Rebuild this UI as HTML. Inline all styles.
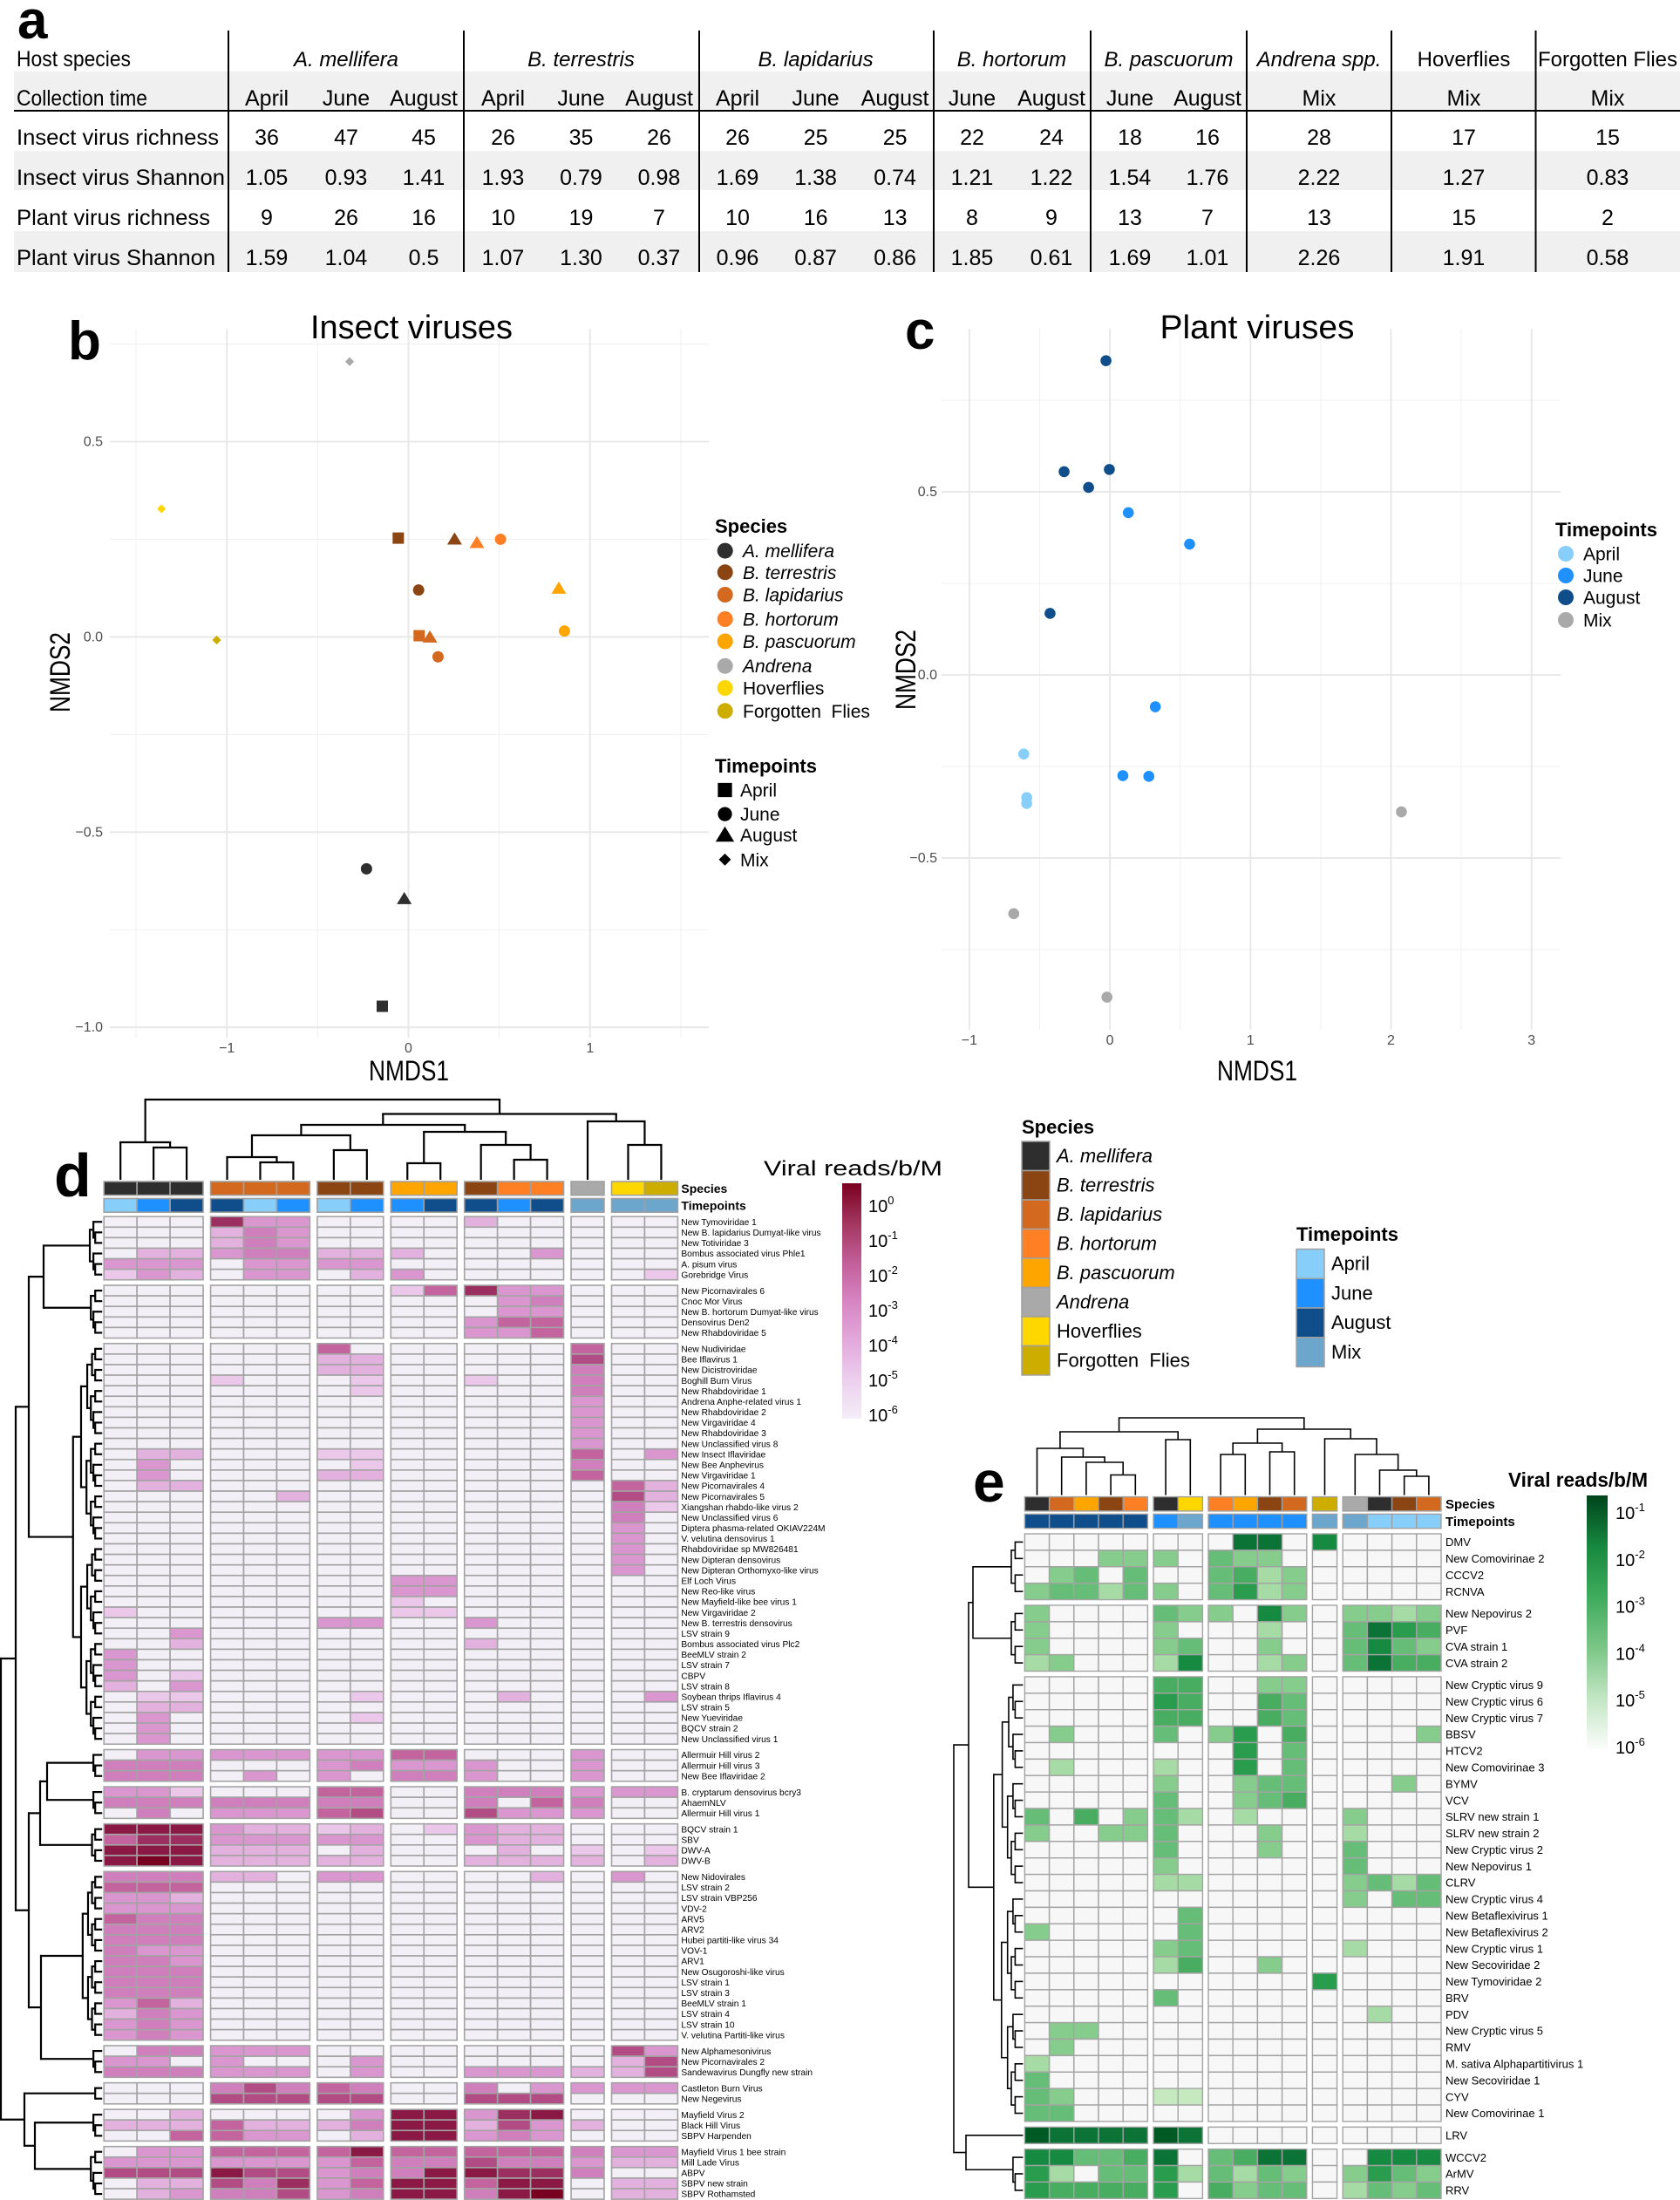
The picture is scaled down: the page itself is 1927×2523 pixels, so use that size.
<!DOCTYPE html>
<html><head><meta charset="utf-8">
<style>
html,body{margin:0;padding:0;background:#fff;}
svg{display:block;font-family:"Liberation Sans",Arial,sans-serif;}
</style></head>
<body>
<svg id="fig" xmlns="http://www.w3.org/2000/svg" width="1927" height="2523" viewBox="0 0 1927 2523">
<defs>
<linearGradient id="gradPink" x1="0" y1="0" x2="0" y2="1">
<stop offset="0" stop-color="#7a0020"/><stop offset="0.17" stop-color="#a3365f"/><stop offset="0.34" stop-color="#c25f9a"/><stop offset="0.5" stop-color="#d685c2"/><stop offset="0.67" stop-color="#e2a9dc"/><stop offset="0.84" stop-color="#ecd0ee"/><stop offset="1" stop-color="#f4eef8"/>
</linearGradient>
<linearGradient id="gradGreen" x1="0" y1="0" x2="0" y2="1">
<stop offset="0" stop-color="#00441b"/><stop offset="0.2" stop-color="#17883f"/><stop offset="0.4" stop-color="#3fab5c"/><stop offset="0.6" stop-color="#7bc687"/><stop offset="0.8" stop-color="#c2e5c3"/><stop offset="1" stop-color="#fbfdfb"/>
</linearGradient>
</defs>
</svg>
<script>
// ---------- TABLE DATA ----------
const tblSpecies = ["A. mellifera","B. terrestris","B. lapidarius","B. hortorum","B. pascuorum","Andrena spp.","Hoverflies","Forgotten Flies"];
const tblTimes = ["April","June","August","April","June","August","April","June","August","June","August","June","August","Mix","Mix","Mix"];
const insectRichness = ["36","47","45","26","35","26","26","25","25","22","24","18","16","28","17","15"];
const insectShannon = ["1.05","0.93","1.41","1.93","0.79","0.98","1.69","1.38","0.74","1.21","1.22","1.54","1.76","2.22","1.27","0.83"];
const plantRichness = ["9","26","16","10","19","7","10","16","13","8","9","13","7","13","15","2"];
const plantShannon = ["1.59","1.04","0.5","1.07","1.30","0.37","0.96","0.87","0.86","1.85","0.61","1.69","1.01","2.26","1.91","0.58"];

// ---------- SCATTER b DATA ----------
const bSpecies = ["Andrena","Hoverflies","Forgotten","terrestris","terrestris","hortorum","hortorum","terrestris","pascuorum","pascuorum","lapidarius","lapidarius","lapidarius","mellifera","mellifera","mellifera"];
const bTime = ["Mix","Mix","Mix","April","August","August","June","June","August","June","April","August","June","June","August","April"];
const bX = [-0.324,-1.36,-1.056,-0.056,0.254,0.377,0.507,0.056,0.828,0.859,0.059,0.118,0.163,-0.231,-0.023,-0.144];
const bY = [0.705,0.328,-0.008,0.253,0.25,0.241,0.25,0.12,0.124,0.015,0.003,-0.001,-0.051,-0.594,-0.671,-0.946];
const bXTicks = [-1,0,1];
const bYTicks = [0.5,0.0,-0.5,-1.0];
const bYTickLabels = ["0.5","0.0","\u22120.5","\u22121.0"];

// ---------- SCATTER c DATA ----------
const cTime = ["August","August","August","August","August","June","June","June","June","June","April","April","April","Mix","Mix","Mix"];
const cX = [-0.028,-0.326,-0.004,-0.152,-0.426,0.131,0.567,0.323,0.092,0.277,-0.613,-0.592,-0.592,2.074,-0.684,-0.021];
const cY = [0.858,0.555,0.561,0.512,0.168,0.443,0.357,-0.087,-0.275,-0.277,-0.216,-0.335,-0.351,-0.374,-0.652,-0.88];
const cXTicks = [-1,0,1,2,3];
const cYTicks = [0.5,0.0,-0.5];
const cYTickLabels = ["0.5","0.0","\u22120.5"];

// ---------- HEATMAP d DATA ----------
const dColGroups = [3,3,2,2,3,1,2];
const dColSpecies = ["mellifera","mellifera","mellifera","lapidarius","lapidarius","lapidarius","terrestris","terrestris","pascuorum","pascuorum","terrestris","hortorum","hortorum","Andrena","Hoverflies","Forgotten"];
const dColTime = ["April","June","August","August","April","June","April","June","June","August","August","June","August","Mix","Mix","Mix"];
const dRowNames = [
["New Tymoviridae 1","New B. lapidarius Dumyat-like virus","New Totiviridae 3","Bombus associated virus Phle1","A. pisum virus","Gorebridge Virus"],
["New Picornavirales 6","Cnoc Mor Virus","New B. hortorum Dumyat-like virus","Densovirus Den2","New Rhabdoviridae 5"],
["New Nudiviridae","Bee Iflavirus 1","New Dicistroviridae","Boghill Burn Virus","New Rhabdoviridae 1","Andrena Anphe-related virus 1","New Rhabdoviridae 2","New Virgaviridae 4","New Rhabdoviridae 3","New Unclassified virus 8","New Insect Iflaviridae","New Bee Anphevirus","New Virgaviridae 1","New Picornavirales 4","New Picornavirales 5","Xiangshan rhabdo-like virus 2","New Unclassified virus 6","Diptera phasma-related OKIAV224M","V. velutina densovirus 1","Rhabdoviridae sp MW826481","New Dipteran densovirus","New Dipteran Orthomyxo-like virus","Elf Loch Virus","New Reo-like virus","New Mayfield-like bee virus 1","New Virgaviridae 2","New B. terrestris densovirus","LSV strain 9","Bombus associated virus Plc2","BeeMLV strain 2","LSV strain 7","CBPV","LSV strain 8","Soybean thrips Iflavirus 4","LSV strain 5","New Yueviridae","BQCV strain 2","New Unclassified virus 1"],
["Allermuir Hill virus 2","Allermuir Hill virus 3","New Bee Iflaviridae 2"],
["B. cryptarum densovirus bcry3","AhaemNLV","Allermuir Hill virus 1"],
["BQCV strain 1","SBV","DWV-A","DWV-B"],
["New Nidovirales","LSV strain 2","LSV strain VBP256","VDV-2","ARV5","ARV2","Hubei partiti-like virus 34","VOV-1","ARV1","New Osugoroshi-like virus","LSV strain 1","LSV strain 3","BeeMLV strain 1","LSV strain 4","LSV strain 10","V. velutina Partiti-like virus"],
["New Alphamesonivirus","New Picornavirales 2","Sandewavirus Dungfly new strain"],
["Castleton Burn Virus","New Negevirus"],
["Mayfield Virus 2","Black Hill Virus","SBPV Harpenden"],
["Mayfield Virus 1 bee strain","Mill Lade Virus","ABPV","SBPV new strain","SBPV Rothamsted"]
];
const dValues = [
["000 733 00 00 200 0 00","000 243 00 00 000 0 00","000 243 00 00 000 0 00","022 344 22 20 003 0 00","333 033 33 00 000 0 00","132 033 02 30 000 0 01"],
["000 000 00 15 733 0 00","000 000 00 00 034 0 00","000 000 00 00 033 0 00","000 000 00 00 355 0 00","000 000 00 00 335 0 00"],
["000 000 50 00 000 5 00","000 000 22 00 000 6 00","000 000 22 00 000 4 00","000 100 01 00 100 4 00","000 000 01 00 000 4 00","000 000 00 00 000 3 00","000 000 00 00 000 3 00","000 000 00 00 000 3 00","000 000 00 00 000 3 00","000 000 00 00 000 3 00",
 "022 000 11 00 000 5 03","030 000 01 00 000 4 00","030 000 22 00 000 5 00","022 000 00 00 000 0 52","000 002 00 00 000 0 62","000 000 00 00 000 0 41","000 000 00 00 000 0 40","000 000 00 00 000 0 30","000 000 00 00 000 0 30","000 000 00 00 000 0 30",
 "000 000 00 00 000 0 30","000 000 00 00 000 0 30","000 000 00 33 000 0 00","000 000 00 33 000 0 00","000 000 00 10 000 0 00","100 000 00 11 000 0 00","000 000 33 00 300 0 00","003 000 00 00 000 0 00","002 000 00 00 200 0 00","300 000 00 00 000 0 00",
 "300 000 00 00 000 0 00","301 000 00 00 000 0 00","203 000 00 00 000 0 00","011 000 01 00 020 0 03","022 000 00 00 000 0 00","030 000 01 00 000 0 00","030 000 00 00 000 0 00","030 000 00 00 000 0 00"],
["033 333 33 55 000 3 00","444 000 34 33 300 3 00","444 030 30 44 300 3 00"],
["331 000 55 00 444 3 33","444 444 44 00 405 4 00","040 333 56 00 633 3 00"],
["888 322 12 01 322 0 00","577 333 33 00 322 0 00","888 222 02 00 020 1 01","898 222 22 00 222 2 02"],
["444 220 33 00 002 0 30","555 000 00 00 000 0 00","332 000 00 00 000 0 00","333 000 00 00 000 0 00","544 000 00 00 000 0 00","444 000 00 00 000 0 00","444 000 00 00 000 0 00","433 000 00 00 000 0 00","443 000 00 00 000 0 00","444 000 00 00 000 0 00","444 000 00 00 000 0 00","444 000 00 00 000 0 00","352 000 00 00 000 0 00","243 000 00 00 000 0 00","343 000 00 00 000 0 00","343 000 00 00 000 0 00"],
["044 333 00 00 000 0 63","330 300 03 00 000 0 26","444 333 03 00 333 2 26"],
["000 464 54 00 403 3 33","000 666 66 00 666 0 00"],
["002 000 03 88 378 0 00","222 522 24 88 263 2 00","005 533 02 88 343 0 00"],
["033 555 58 55 555 4 33","333 333 35 44 644 3 22","666 866 34 48 877 4 00","022 647 35 88 588 0 22","023 446 34 88 489 0 22"]
];
const dLegendLabels = ["0","-1","-2","-3","-4","-5","-6"];

// ---------- HEATMAP e DATA ----------
const eColGroups = [5,2,4,1,4];
const eColSpecies = ["mellifera","lapidarius","pascuorum","terrestris","hortorum","mellifera","Hoverflies","hortorum","pascuorum","terrestris","lapidarius","Forgotten","Andrena","mellifera","terrestris","lapidarius"];
const eColTime = ["August","August","August","August","August","June","Mix","June","June","June","June","Mix","Mix","April","April","April"];
const eRowNames = [
["DMV","New Comovirinae 2","CCCV2","RCNVA"],
["New Nepovirus 2","PVF","CVA strain 1","CVA strain 2"],
["New Cryptic virus 9","New Cryptic virus 6","New Cryptic virus 7","BBSV","HTCV2","New Comovirinae 3","BYMV","VCV","SLRV new strain 1","SLRV new strain 2","New Cryptic virus 2","New Nepovirus 1","CLRV","New Cryptic virus 4","New Betaflexivirus 1","New Betaflexivirus 2","New Cryptic virus 1","New Secoviridae 2","New Tymoviridae 2","BRV","PDV","New Cryptic virus 5","RMV","M. sativa Alphapartitivirus 1","New Secoviridae 1","CYV","New Comovirinae 1"],
["LRV"],
["WCCV2","ArMV","RRV"]
];
const eValues = [
["00000 00 0880 7 0000","00033 30 4330 0 0000","03404 00 4523 0 0000","34424 30 4623 0 0000"],
["30000 43 3073 0 3323","30000 30 0020 0 4865","30000 34 0030 0 4743","23000 27 0023 0 4855"],
["00000 55 0033 0 0000","00000 65 0054 0 0000","00000 55 0054 0 0000","03000 40 3605 0 0003","00000 00 0604 0 0000","02000 20 0604 0 0000","00000 30 0344 0 0030","00000 40 0345 0 0000","40503 42 0200 0 3000","30033 40 0030 0 2000",
 "00000 40 0030 0 4000","00000 30 0000 0 4000","00000 22 0000 0 3424","00000 00 0000 0 3044","00000 04 0000 0 0000","30000 04 0000 0 0000","00000 34 0000 0 2000","00000 25 0030 0 0000","00000 00 0000 6 0000","00000 40 0000 0 0000",
 "00000 00 0000 0 0200","03300 00 0000 0 0000","03000 00 0000 0 0000","20000 00 0000 0 0000","40000 00 0000 0 0000","43000 11 0000 0 0000","44000 00 0000 0 0000"],
["98888 98 0000 0 0000"],
["77445 80 4588 0 0777","62044 62 4243 0 3643","65555 60 5344 0 2434"]
];
const eLegendLabels = ["-1","-2","-3","-4","-5","-6"];

// ---------- STYLE MAPS ----------
const speciesColor = {mellifera:"#2e2e2e",terrestris:"#8b4513",lapidarius:"#d2691e",hortorum:"#ff7f24",pascuorum:"#ffa500",Andrena:"#a9a9a9",Hoverflies:"#ffd700",Forgotten:"#cdad00"};
const timeColor = {April:"#87cefa",June:"#1e90ff",August:"#104e8b",Mix:"#6ca6cd"};
const pink = ['#f2eff6','#ebc8ea','#e3b1de','#da97cf','#d07fbd','#c4649f','#b24c84','#9b2f5f','#8a1a45','#780021'];
const green = ['#f7f7f7','#c7e9c0','#a7dba5','#86cc8c','#66bd77','#49ad61','#2a9c4e','#178a42','#0b7336','#005a24'];

const NS='http://www.w3.org/2000/svg';
const svg=document.getElementById('fig');
function mk(tag,attrs,parent){const e=document.createElementNS(NS,tag);for(const k in attrs)e.setAttribute(k,attrs[k]);(parent||svg).appendChild(e);return e;}
function txt(s,attrs,parent){const e=mk('text',attrs,parent);e.textContent=s;return e;}
function grp(name){const g=mk('g',{});return g;}

// ================= PANEL a : TABLE =================
(function(){
  const g=grp('table-panel-a');
  const L=txt('a',{x:20,y:44,'font-size':62,'font-weight':'bold'},g);
  
  
  const bands=[[81.7,126.7],[173,218],[265,312]];
  bands.forEach(b=>{const r=mk('rect',{x:16,y:b[0],width:1911,height:b[1]-b[0],fill:'#f0f0f0'},g);
    
    });
  const hl=mk('line',{x1:16,y1:127,x2:1927,y2:127,stroke:'#000','stroke-width':2},g);
  
  
  const vlines=[262,532,802,1071,1251,1430,1596,1761.5];
  vlines.forEach(x=>{const l=mk('line',{x1:x,y1:35,x2:x,y2:312,stroke:'#000','stroke-width':2},g);
    
    });
  const colX=[306,397,486,577,666.5,756,846,935.6,1026.6,1115,1206,1296,1385,1513,1679,1844];
  const spX=[397,666.5,935.6,1160.5,1340.5,1513,1679,1844];
  const labels=[["Host species",131,76],["Collection time",150,121],["Insect virus richness",232,166],["Insect virus Shannon",239,212],["Plant virus richness",222,258],["Plant virus Shannon",228,304]];
  labels.forEach(l=>{const t=txt(l[0],{x:19,y:l[2],'font-size':25,textLength:l[1],lengthAdjust:'spacingAndGlyphs'},g);
    
    });
  tblSpecies.forEach((s,i)=>{
    const t=txt(s,{x:spX[i],y:76,'font-size':24,'text-anchor':'middle','font-style':i<6?'italic':'normal'},g);
    
    
  });
  const rows=[[tblTimes,121],[insectRichness,166],[insectShannon,212],[plantRichness,258],[plantShannon,304]];
  rows.forEach(r=>{r[0].forEach((v,i)=>{const t=txt(v,{x:colX[i],y:r[1],'font-size':25,'text-anchor':'middle'},g);
    
    });});
})();

// ================= SCATTER helpers =================
function marker(parent,shape,x,y,col,scale){
  let e; const s=scale||1;
  if(shape==='April'){e=mk('rect',{x:x-6.5*s,y:y-6.5*s,width:13*s,height:13*s,fill:col},parent);}
  else if(shape==='June'){e=mk('circle',{cx:x,cy:y,r:6.5*s,fill:col},parent);}
  else if(shape==='August'){e=mk('polygon',{points:`${x},${y-8*s} ${x+8.5*s},${y+6*s} ${x-8.5*s},${y+6*s}`,fill:col},parent);}
  else {e=mk('polygon',{points:`${x},${y-6*s} ${x+6*s},${y} ${x},${y+6*s} ${x-6*s},${y}`,fill:col},parent);}
  return e;
}
function panelGrid(g,x0,x1,y0,y1,xs,ys,xMinor,yMinor,px,py){
  xMinor.forEach(v=>{const l=mk('line',{x1:px(v),x2:px(v),y1:y0,y2:y1,stroke:'#f0f0f0','stroke-width':1},g);
    });
  yMinor.forEach(v=>{const l=mk('line',{x1:x0,x2:x1,y1:py(v),y2:py(v),stroke:'#f0f0f0','stroke-width':1},g);
    });
  xs.forEach(v=>{const l=mk('line',{x1:px(v),x2:px(v),y1:y0,y2:y1,stroke:'#e6e6e6','stroke-width':1.8},g);
    });
  ys.forEach(v=>{const l=mk('line',{x1:x0,x2:x1,y1:py(v),y2:py(v),stroke:'#e6e6e6','stroke-width':1.8},g);
    });
}

// ================= PANEL b =================
(function(){
  const g=grp('nmds-insect-panel-b');
  const bx=v=>468.5+v*208.3, by=v=>730.4-v*447.8;
  panelGrid(g,126,813,377,1190,bXTicks,bYTicks,[-1.5,-0.5,0.5,1.5],[0.75,0.25,-0.25,-0.75],bx,by);
  bXTicks.forEach(v=>{const t=txt(v<0?'\u2212'+Math.abs(v):String(v),{x:bx(v),y:1207,'font-size':16,fill:'#4d4d4d','text-anchor':'middle'},g);
    });
  bYTicks.forEach((v,i)=>{const t=txt(bYTickLabels[i],{x:118,y:by(v)+5,'font-size':16,fill:'#4d4d4d','text-anchor':'end'},g);
    });
  bX.forEach((v,i)=>{const m=marker(g,bTime[i],bx(v),by(bY[i]),speciesColor[bSpecies[i]],bTime[i]==='Mix'?0.85:1);
    
    });
  const t1=txt('Insect viruses',{x:472,y:388,'font-size':38,'text-anchor':'middle',textLength:232,lengthAdjust:'spacingAndGlyphs'},g);
  
  const lb=txt('b',{x:78,y:412,'font-size':62,'font-weight':'bold'},g);
  
  const xt=txt('NMDS1',{x:469,y:1239,'font-size':32,'text-anchor':'middle',textLength:92,lengthAdjust:'spacingAndGlyphs'},g);
  
  const yt=txt('NMDS2',{x:0,y:0,'font-size':32,'text-anchor':'middle',textLength:92,lengthAdjust:'spacingAndGlyphs',transform:'translate(80,771) rotate(-90)'},g);
  
  const st=txt('Species',{x:820,y:611,'font-size':22,'font-weight':'bold'},g);
  
  const spKeys=['mellifera','terrestris','lapidarius','hortorum','pascuorum','Andrena','Hoverflies','Forgotten'];
  const spNames=['A. mellifera','B. terrestris','B. lapidarius','B. hortorum','B. pascuorum','Andrena','Hoverflies','Forgotten\u00a0 Flies'];
  const spY=[631.6,656.3,682,710,735.5,763.7,789,815.3];
  spKeys.forEach((k,i)=>{const c=mk('circle',{cx:831.7,cy:spY[i],r:9,fill:speciesColor[k]},g);
    
    const t=txt(spNames[i],{x:852,y:spY[i]+7.5,'font-size':21,'font-style':i<6?'italic':'normal'},g);
    });
  const tt=txt('Timepoints',{x:820,y:886,'font-size':22,'font-weight':'bold'},g);
  
  const tps=['April','June','August','Mix'], tY=[906,933.6,957.7,985.8];
  tps.forEach((k,i)=>{const m=marker(g,k,831.5,tY[i],'#000',k==='Mix'?1.15:1.25);
    
    const t=txt(k,{x:849,y:tY[i]+7.5,'font-size':21},g);
    });
})();

// ================= PANEL c =================
(function(){
  const g=grp('nmds-plant-panel-c');
  const cx=v=>1273.1+v*161.2, cy=v=>774-v*420;
  panelGrid(g,1080,1790,377,1181,cXTicks,cYTicks,[-0.5,0.5,1.5,2.5],[0.75,0.25,-0.25,-0.75],cx,cy);
  cXTicks.forEach(v=>{const t=txt(v<0?'\u2212'+Math.abs(v):String(v),{x:cx(v),y:1198,'font-size':16,fill:'#4d4d4d','text-anchor':'middle'},g);
    });
  cYTicks.forEach((v,i)=>{const t=txt(cYTickLabels[i],{x:1075,y:cy(v)+5,'font-size':16,fill:'#4d4d4d','text-anchor':'end'},g);
    });
  const tc={April:'#87cefa',June:'#1e90ff',August:'#104e8b',Mix:'#a9a9a9'};
  cX.forEach((v,i)=>{const c=mk('circle',{cx:cx(v),cy:cy(cY[i]),r:6.3,fill:tc[cTime[i]]},g);
    });
  const t1=txt('Plant viruses',{x:1442,y:388,'font-size':38,'text-anchor':'middle',textLength:223,lengthAdjust:'spacingAndGlyphs'},g);
  
  const lc=txt('c',{x:1038,y:400,'font-size':62,'font-weight':'bold'},g);
  
  const xt=txt('NMDS1',{x:1442,y:1239,'font-size':32,'text-anchor':'middle',textLength:92,lengthAdjust:'spacingAndGlyphs'},g);
  
  const yt=txt('NMDS2',{x:0,y:0,'font-size':32,'text-anchor':'middle',textLength:92,lengthAdjust:'spacingAndGlyphs',transform:'translate(1050,768) rotate(-90)'},g);
  
  const tt=txt('Timepoints',{x:1784,y:615,'font-size':22,'font-weight':'bold'},g);
  
  const tps=['April','June','August','Mix'], tY=[635,660,685,711];
  tps.forEach((k,i)=>{const c=mk('circle',{cx:1796,cy:tY[i],r:9,fill:tc[k]},g);
    
    const t=txt(k,{x:1816,y:tY[i]+7.5,'font-size':21},g);
    });
})();

// ================= HEATMAP builder =================
function heatmap(cfg){
  const g=grp(cfg.name);
  const colX=[]; let x=cfg.x0; cfg.colGroups.forEach((n)=>{for(let i=0;i<n;i++){colX.push(x);x+=cfg.cw;} x+=cfg.cg;});
  const rowY=[]; const flatNames=[]; const flatVals=[]; let y=cfg.y0;
  cfg.rowNames.forEach((grpN,gi)=>{grpN.forEach((nm,ri)=>{rowY.push(y);flatNames.push(nm);flatVals.push(cfg.values[gi][ri].replace(/ /g,''));y+=cfg.rh;}); y+=cfg.rg;});
  cfg.colSpecies.forEach((s,i)=>{const r=mk('rect',{x:colX[i],y:cfg.spY,width:cfg.cw,height:cfg.barH,fill:speciesColor[s],stroke:'#a0a0a0','stroke-width':cfg.sw},g);
    });
  cfg.colTime.forEach((s,i)=>{const r=mk('rect',{x:colX[i],y:cfg.tpY,width:cfg.cw,height:cfg.barH,fill:timeColor[s],stroke:'#a0a0a0','stroke-width':cfg.sw},g);
    });
  flatVals.forEach((str,ri)=>{for(let ci=0;ci<str.length;ci++){const v=+str[ci];
    const r=mk('rect',{x:colX[ci],y:rowY[ri],width:cfg.cw,height:cfg.rh,fill:cfg.pal[v],stroke:'#a3a3a3','stroke-width':cfg.sw},g);
    }});
  const lx=colX[colX.length-1]+cfg.cw+cfg.lgap;
  flatNames.forEach((nm,ri)=>{const t=txt(nm,{x:lx,y:rowY[ri]+cfg.rh/2+cfg.fs*0.36,'font-size':cfg.fs},g);
    });
  const sl=txt('Species',{x:lx,y:cfg.spY+cfg.barH/2+cfg.afs*0.36,'font-size':cfg.afs,'font-weight':'bold'},g);
  
  const tl=txt('Timepoints',{x:lx,y:cfg.tpY+cfg.barH/2+cfg.afs*0.36,'font-size':cfg.afs,'font-weight':'bold'},g);
  
  const cxs=colX.map(v=>v+cfg.cw/2);
  function drawCol(node){ if(typeof node==='number') return {x:cxs[node],y:cfg.spY-2};
    const a=drawCol(node[0]), b=drawCol(node[1]), h=node[2];
    [a,b].forEach(c=>{const l=mk('line',{x1:c.x,x2:c.x,y1:c.y,y2:h,stroke:'#000','stroke-width':cfg.lw},g);
      });
    const l=mk('line',{x1:a.x-cfg.lw/2,x2:b.x+cfg.lw/2,y1:h,y2:h,stroke:'#000','stroke-width':cfg.lw},g);
    
    return {x:(a.x+b.x)/2,y:h};}
  drawCol(cfg.colTree);
  const rcs=rowY.map(v=>v+cfg.rh/2); const leafX=cfg.x0-2;
  const offs=[];{let o=0;cfg.rowNames.forEach(a=>{offs.push(o);o+=a.length;});}
  function auto(lo,hi){ if(lo===hi) return lo; const mid=Math.floor((lo+hi+1)/2);
    const n=hi-lo+1; return [auto(lo,mid-1),auto(mid,hi),leafX-cfg.dk*Math.sqrt(n-1)-3];}
  function resolve(node){ if(typeof node==='string'){const gi=+node.slice(1);return auto(offs[gi],offs[gi]+cfg.rowNames[gi].length-1);} if(typeof node==='number')return node;
    return [resolve(node[0]),resolve(node[1]),node[2]];}
  function drawRow(node){ if(typeof node==='number') return {x:leafX,y:rcs[node]};
    const a=drawRow(node[0]), b=drawRow(node[1]), h=node[2];
    [a,b].forEach(c=>{const l=mk('line',{x1:c.x,x2:h,y1:c.y,y2:c.y,stroke:'#000','stroke-width':cfg.lw},g);
      });
    const l=mk('line',{x1:h,x2:h,y1:a.y-cfg.lw/2,y2:b.y+cfg.lw/2,stroke:'#000','stroke-width':cfg.lw},g);
    
    return {x:h,y:(a.y+b.y)/2};}
  drawRow(resolve(cfg.rowTree));
  return g;
}

// ================= PANEL d =================
(function(){
  const g=heatmap({name:'heatmap-insect-panel-d',x0:119.2,cw:37.95,cg:8.5,y0:1395.2,rh:12.09,rg:6.3,spY:1355,tpY:1374.5,barH:15.7,
    colGroups:dColGroups,colSpecies:dColSpecies,colTime:dColTime,rowNames:dRowNames,values:dValues,pal:pink,sw:1.6,fs:10.2,afs:14,lgap:4,lw:2.2,dk:5,
    colTree:[[0,[1,2,1316],1310],[[[[3,[4,5,1333],1327],[6,7,1319],1302],[[8,9,1334],[10,[11,12,1330],1313],1298],1290],[13,[14,15,1313],1286],1277.5],1261],
    rowTree:[[[['G0','G1',50],'G2',33],[[['G3','G4',54],'G5',46],['G6','G7',47],33],18],['G8',['G9','G10',40],28],1]});
  const lbl=txt('d',{x:62,y:1372,'font-size':70,'font-weight':'bold'},g);
  
  const lt=txt('Viral reads/b/M',{x:876,y:1348,'font-size':24,textLength:205,lengthAdjust:'spacingAndGlyphs'},g);
  
  const bar=mk('rect',{x:966,y:1357,width:22,height:270,fill:'url(#gradPink)'},g);
  
  dLegendLabels.forEach((s,i)=>{const yy=1382+i*40;
    const t=txt('10',{x:996,y:yy+8,'font-size':20},g);
    
    const sp=mk('tspan',{dy:-9,'font-size':13},t); sp.textContent=s;});
})();

// ================= shared species / timepoint legend =================
(function(){
  const g=grp('annotation-legend');
  const t=txt('Species',{x:1172,y:1300,'font-size':22,'font-weight':'bold'},g);
  
  const keys=['mellifera','terrestris','lapidarius','hortorum','pascuorum','Andrena','Hoverflies','Forgotten'];
  const names=['A. mellifera','B. terrestris','B. lapidarius','B. hortorum','B. pascuorum','Andrena','Hoverflies','Forgotten\u00a0 Flies'];
  keys.forEach((k,i)=>{const y=1309+i*33.5;
    const r=mk('rect',{x:1172,y:y,width:32,height:33.5,fill:speciesColor[k],stroke:'#a0a0a0','stroke-width':1.5},g);
    
    const tx=txt(names[i],{x:1212,y:y+24,'font-size':22,'font-style':i<6?'italic':'normal'},g);
    });
  const t2=txt('Timepoints',{x:1487,y:1423,'font-size':22,'font-weight':'bold'},g);
  
  ['April','June','August','Mix'].forEach((k,i)=>{const y=1432.5+i*33.75;
    const r=mk('rect',{x:1487,y:y,width:32,height:33.75,fill:timeColor[k],stroke:'#a0a0a0','stroke-width':1.5},g);
    
    const tx=txt(k,{x:1527,y:y+24,'font-size':22},g);
    });
})();

// ================= PANEL e =================
(function(){
  const g=heatmap({name:'heatmap-plant-panel-e',x0:1175.4,cw:28.2,cg:6.6,y0:1759,rh:18.89,rg:6.4,spY:1716.6,tpY:1736.4,barH:16.3,
    colGroups:eColGroups,colSpecies:eColSpecies,colTime:eColTime,rowNames:eRowNames,values:eValues,pal:green,sw:1.4,fs:13,afs:15,lgap:5,lw:1.6,dk:6,
    colTree:[[[0,[1,[2,[3,4,1691.5],1677],1671],1661],[5,6,1651],1642],[[[7,8,1668],[9,10,1665],1655],[11,[12,[13,[14,15,1693],1686],1668],1650],1639],1626],
    rowTree:[[['G0','G1',1116],'G2',1111],['G3','G4',1108],1094]});
  const lbl=txt('e',{x:1116,y:1722,'font-size':66,'font-weight':'bold'},g);
  
  const lt=txt('Viral reads/b/M',{x:1730,y:1705,'font-size':23,'font-weight':'bold',textLength:160,lengthAdjust:'spacingAndGlyphs'},g);
  
  const bar=mk('rect',{x:1820,y:1715,width:24,height:291,fill:'url(#gradGreen)'},g);
  
  eLegendLabels.forEach((s,i)=>{const yy=1734+i*53.8;
    const t=txt('10',{x:1853,y:yy+8,'font-size':20},g);
    
    const sp=mk('tspan',{dy:-9,'font-size':13},t); sp.textContent=s;});
})();
</script>
</body></html>
